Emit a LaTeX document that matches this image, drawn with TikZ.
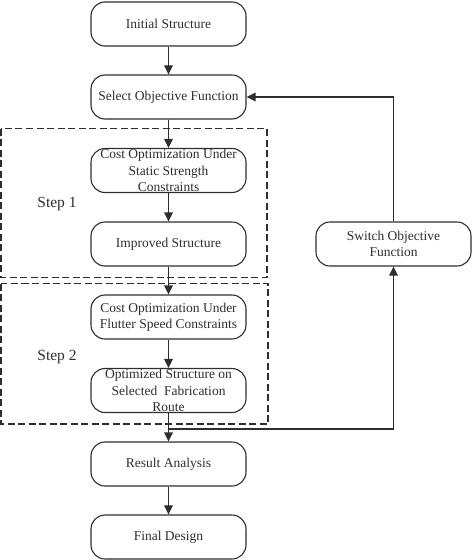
\documentclass[tikz,border=0pt]{standalone}
\usepackage{fontspec}
\setmainfont{Liberation Serif}
\usetikzlibrary{arrows.meta}
\definecolor{ink}{gray}{0.18}
\begin{document}
\begin{tikzpicture}[x=1pt,y=-1pt,
  box/.style={draw=ink,line width=1.1pt,rounded corners=14pt,minimum width=155pt,minimum height=44pt,
    align=center,inner sep=0pt,text=ink,font=\fontsize{13.5}{16.5}\selectfont},
  arr/.style={draw=ink,line width=1.1pt,-{Triangle[length=9pt,width=8.5pt]}},
  dbox/.style={draw=ink,line width=1.3pt,dash pattern=on 7pt off 3.5pt},
  steplab/.style={text=ink,font=\fontsize{15.5}{18}\selectfont}]
\useasboundingbox (0,0) rectangle (474,560);
\node[box] (init) at (168.5,24) {Initial Structure};
\node[box] (sel) at (168.5,97) {Select Objective Function};
\node[box] (cost1) at (168.5,170.5) {Cost Optimization Under\\Static Strength\\Constraints};
\node[box] (impr) at (168.5,244) {Improved Structure};
\node[box] (cost2) at (168.5,317) {Cost Optimization Under\\Flutter Speed Constraints};
\node[box] (opt) at (168.5,390.5) {Optimized Structure on\\Selected\ \ Fabrication\\Route};
\node[box] (res) at (168.5,464) {Result Analysis};
\node[box] (fin) at (168.5,537) {Final Design};
\node[box] (sw) at (393.5,244) {Switch Objective\\Function};
\draw[dbox] (1,128.5) rectangle (267,277.5);
\draw[dbox] (1,283.5) rectangle (268,424);
\node[steplab] (s1) at (57,204) {Step 1};
\node[steplab] (s2) at (57,357) {Step 2};
\draw[arr] (init) -- (sel);
\draw[arr] (sel) -- (cost1);
\draw[arr] (cost1) -- (impr);
\draw[arr] (impr) -- (cost2);
\draw[arr] (cost2) -- (opt);
\draw[arr] (opt) -- (res);
\draw[arr] (res) -- (fin);
\coordinate (br) at (168.5,429);
\draw[arr] (br) -| (sw.south);
\draw[arr] (sw.north) |- (sel.east);
\end{tikzpicture}
\end{document}
